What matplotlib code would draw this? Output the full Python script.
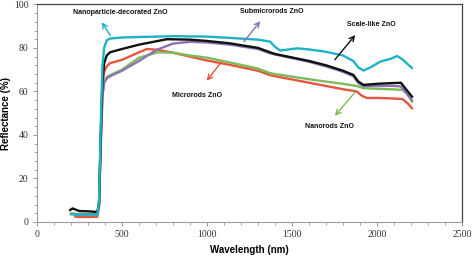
import matplotlib
matplotlib.use("Agg")
import matplotlib.pyplot as plt
from matplotlib.ticker import MultipleLocator

# Wavelength grids (nm) and reflectance (%) for each sample
wl_cyan = [200, 250, 300, 355, 365, 375, 385, 395, 410, 430, 500, 600, 800, 1000, 1135, 1300, 1370, 1400, 1430, 1480, 1530, 1600, 1700, 1800, 1860, 1890, 1920, 1960, 2018, 2080, 2118, 2153, 2180, 2205]
r_cyan  = [3.5, 3.3, 3.3, 3.4, 10, 45, 72, 80, 83.5, 84.3, 84.8, 85.0, 85.4, 85.2, 84.6, 83.8, 82.9, 80.5, 78.8, 79.3, 79.8, 79.3, 78.2, 76.5, 74.0, 71.0, 69.6, 71.0, 73.7, 75.0, 76.3, 74.5, 72.5, 70.8]

wl_black = [195, 210, 250, 300, 355, 365, 375, 385, 395, 410, 430, 500, 600, 764, 900, 1000, 1135, 1300, 1370, 1400, 1500, 1600, 1700, 1800, 1860, 1890, 1920, 2000, 2080, 2140, 2170, 2205]
r_black  = [5.5, 6.2, 5.0, 4.9, 4.6, 9, 40, 65, 73, 76.5, 78.0, 79.5, 81.5, 84.0, 83.8, 83.2, 82.1, 80.0, 78.0, 77.2, 75.6, 74.0, 72.0, 69.5, 67.6, 64.5, 63.0, 63.5, 63.8, 64.0, 61.0, 57.6]

wl_purple = [225, 250, 300, 355, 365, 375, 385, 395, 410, 430, 500, 600, 700, 800, 900, 1000, 1135, 1300, 1370, 1400, 1500, 1600, 1700, 1800, 1860, 1890, 1920, 2000, 2080, 2140, 2170, 2205]
r_purple  = [3.5, 3.4, 3.4, 3.5, 8, 35, 58, 64, 66.0, 67.0, 69.5, 74.0, 79.0, 82.0, 82.8, 82.5, 81.5, 79.5, 77.5, 77.0, 75.3, 73.6, 71.5, 69.0, 67.0, 63.8, 62.5, 62.5, 62.6, 62.3, 59.5, 56.0]

wl_red = [225, 250, 300, 355, 365, 375, 385, 395, 410, 430, 500, 600, 647, 700, 800, 900, 1000, 1135, 1300, 1370, 1400, 1500, 1600, 1700, 1800, 1880, 1910, 1940, 2000, 2080, 2150, 2180, 2205]
r_red  = [2.5, 2.3, 2.3, 2.4, 7, 38, 62, 69, 71.5, 73.0, 74.5, 78.0, 79.5, 79.2, 77.8, 76.0, 74.2, 72.2, 69.5, 67.5, 67.0, 65.5, 64.0, 62.5, 61.0, 60.0, 58.0, 57.0, 57.0, 56.8, 56.5, 54.5, 52.3]

wl_green = [200, 250, 300, 355, 365, 375, 385, 395, 410, 430, 500, 600, 711, 800, 900, 1000, 1153, 1300, 1370, 1400, 1500, 1600, 1700, 1800, 1880, 1920, 2000, 2080, 2150, 2180, 2205]
r_green  = [4.0, 3.6, 3.6, 3.7, 8, 36, 58, 64, 66.5, 67.5, 70.0, 75.5, 78.0, 77.8, 76.5, 75.5, 73.0, 70.5, 68.4, 68.0, 66.8, 65.6, 64.5, 63.5, 62.5, 61.5, 61.2, 61.0, 60.7, 58.5, 55.3]

series = [
    (wl_red, r_red, "#e8553d"),
    (wl_green, r_green, "#7dbb5a"),
    (wl_purple, r_purple, "#8a72b4"),
    (wl_black, r_black, "#111111"),
    (wl_cyan, r_cyan, "#1db3c4"),
]

# annotation labels: text, text position, arrow tail, arrow head, color
labels = ["Nanoparticle-decorated ZnO", "Submicrorods ZnO", "Scale-like ZnO", "Microrods ZnO", "Nanorods ZnO"]
label_xy = [(488, 96.1), (1382, 96.6), (1965, 90.6), (941, 57.9), (1718, 43.7)]
arrow_tail = [(441, 84.6), (1206, 81.8), (1741, 73.6), (1094, 74.5), (1882, 60.7)]
arrow_head = [(371, 92.9), (1323, 93.3), (1882, 86.9), (988, 63.9), (1741, 47.8)]
arrow_col = ["#1db3c4", "#8a72b4", "#111111", "#e8553d", "#7dbb5a"]

xticks = [0, 500, 1000, 1500, 2000, 2500]
yticks = [0, 20, 40, 60, 80, 100]

fig = plt.figure(figsize=(4.74, 2.59), dpi=100)
ax = fig.add_axes([0.078, 0.143, 0.897, 0.840])

for wl, r, c in series:
    ax.plot(wl, r, color=c, lw=1.7, solid_joinstyle="round")

for t, xy, tail, head, c in zip(labels, label_xy, arrow_tail, arrow_head, arrow_col):
    ax.annotate("", xy=head, xytext=tail,
                arrowprops=dict(arrowstyle="->", color=c, lw=1.0, mutation_scale=9))
    ax.text(xy[0], xy[1], t, ha="center", va="center", fontsize=5.0,
            fontweight="bold", family="Liberation Sans", color="#111111")

ax.set_xlim(0, 2500)
ax.set_ylim(0, 100)
ax.set_xticks(xticks)
ax.set_yticks(yticks)
ax.xaxis.set_minor_locator(MultipleLocator(100))
ax.yaxis.set_minor_locator(MultipleLocator(4))
for lab in ax.get_xticklabels() + ax.get_yticklabels():
    lab.set_family("Liberation Serif")
    lab.set_fontsize(7)
    lab.set_color("#333333")
ax.tick_params(which="major", length=3, width=0.6, color="#888888", pad=3)
ax.tick_params(which="minor", length=2, width=0.5, color="#888888")
ax.set_xlabel("Wavelength (nm)", fontsize=7, fontweight="bold", family="Liberation Sans", labelpad=4)
ax.set_ylabel("Reflectance (%)", fontsize=7, fontweight="bold", family="Liberation Sans", labelpad=2)
for s in ["left", "bottom"]:
    ax.spines[s].set_color("#999999")
    ax.spines[s].set_linewidth(0.8)
for s in ["top", "right"]:
    ax.spines[s].set_color("#444444")
    ax.spines[s].set_linewidth(0.9)

fig.savefig("out.png", dpi=100)
